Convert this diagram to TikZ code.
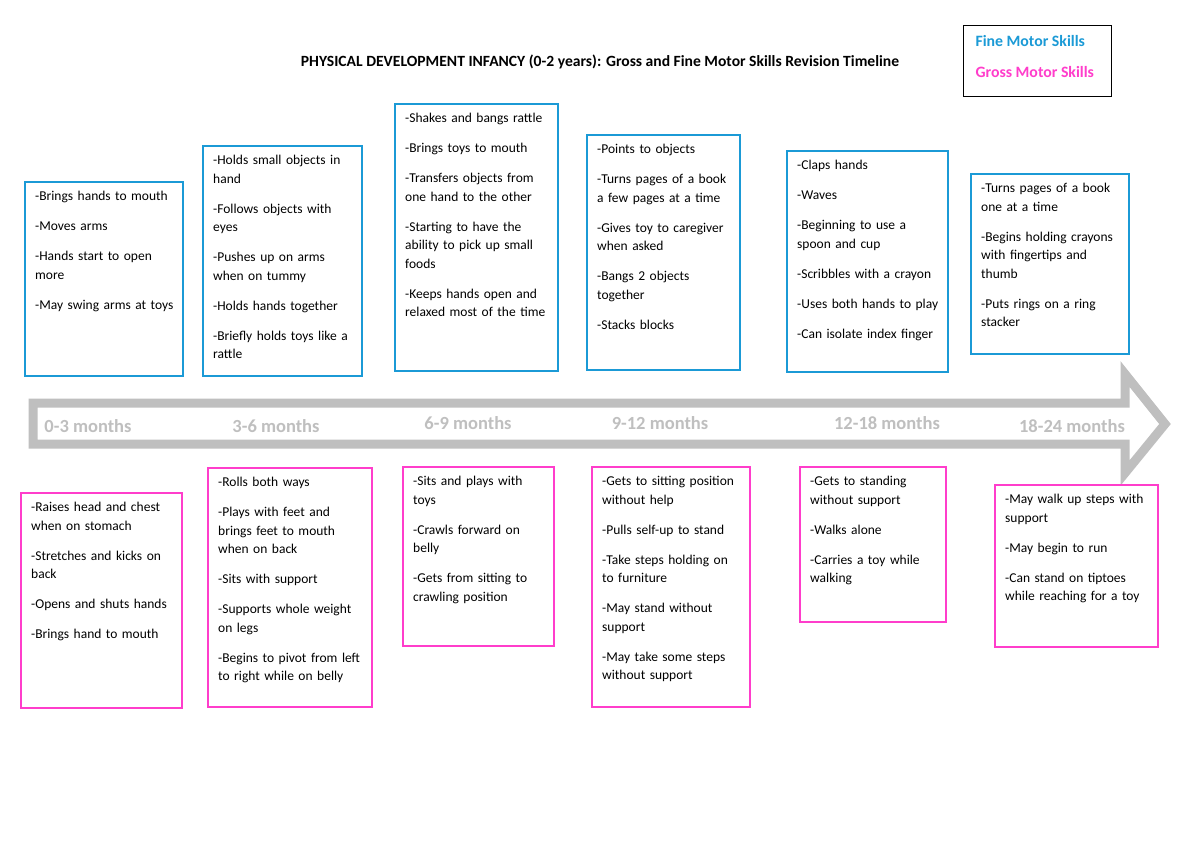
\documentclass[tikz,border=0pt]{standalone}
\usepackage{fontspec}
\setmainfont{Carlito}
\definecolor{fblue}{HTML}{1B9AD6}
\definecolor{gpink}{HTML}{FF3DCB}
\definecolor{agray}{HTML}{BFBFBF}
\begin{document}
\begin{tikzpicture}[x=1pt,y=-1pt,
  txt/.style={anchor=north west,inner sep=0pt,align=left,font=\fontsize{13.5}{18.5}\selectfont},
  bb/.style={draw=fblue,line width=2.6pt},
  pb/.style={draw=gpink,line width=2.6pt},
  lab/.style={text=agray,font=\fontsize{18.5}{20}\selectfont\bfseries}]
\useasboundingbox (0,0) rectangle (1200,849);
\fill[white] (0,0) rectangle (1200,849);
% arrow
\draw[agray,line width=9pt,line join=miter,fill=white] (33,403) -- (1125,403) -- (1125,374) -- (1165,424) -- (1125,473) -- (1125,444) -- (33,444) -- cycle;
\node[lab] (l1) at (88,426) {0-3 months};
\node[lab] (l2) at (276,426) {3-6 months};
\node[lab] (l3) at (468,423) {6-9 months};
\node[lab] (l4) at (660,423) {9-12 months};
\node[lab] (l5) at (887,423) {12-18 months};
\node[lab] (l6) at (1072,426) {18-24 months};
% title & legend
\node[font=\fontsize{15.6}{17}\selectfont\bfseries] (title) at (600,62) {PHYSICAL DEVELOPMENT INFANCY (0-2 years): Gross and Fine Motor Skills Revision Timeline};
\draw[line width=0.8pt] (963,25) rectangle (1111,96);
\node[anchor=west,text=fblue,font=\fontsize{15.8}{17}\selectfont\bfseries] (lf) at (972,41) {Fine Motor Skills};
\node[anchor=west,text=gpink,font=\fontsize{15.8}{17}\selectfont\bfseries] (lg) at (972,72) {Gross Motor Skills};
\newcommand{\tbox}[7]{% style, x1,y1,x2,y2,name,text
  \draw[#1] (#2,#3) rectangle (#4,#5);
  \node[txt,text width={#4-#2-18}] (#6) at (#2+10,#3+9) {\hyphenpenalty=10000 \exhyphenpenalty=10000 #7};}
\def\gap{\par\vspace{11.5pt}}
\tbox{bb}{25}{182}{183}{376}{f1}{-Brings hands to mouth\gap -Moves arms\gap -Hands start to open more\gap -May swing arms at toys}
\tbox{bb}{203}{146}{362}{376}{f2}{-Holds small objects in hand\gap -Follows objects with eyes\gap -Pushes up on arms when on tummy\gap -Holds hands together\gap -Briefly holds toys like a rattle}
\tbox{bb}{395}{104}{558}{371}{f3}{-Shakes and bangs rattle\gap -Brings toys to mouth\gap -Transfers objects from one hand to the other\gap -Starting to have the ability to pick up small foods\gap -Keeps hands open and relaxed most of the time}
\tbox{bb}{587}{135}{740}{370}{f4}{-Points to objects\gap -Turns pages of a book a few pages at a time\gap -Gives toy to caregiver when asked\gap -Bangs 2 objects together\gap -Stacks blocks}
\tbox{bb}{787}{151}{948}{372}{f5}{-Claps hands\gap -Waves\gap -Beginning to use a spoon and cup\gap -Scribbles with a crayon\gap -Uses both hands to play\gap -Can isolate index finger}
\tbox{bb}{971}{174}{1129}{354}{f6}{-Turns pages of a book one at a time\gap -Begins holding crayons with fingertips and thumb\gap -Puts rings on a ring stacker}
\tbox{pb}{21}{493}{182}{708}{g1}{-Raises head and chest when on stomach\gap -Stretches and kicks on back\gap -Opens and shuts hands\gap -Brings hand to mouth}
\tbox{pb}{208}{468}{372}{707}{g2}{-Rolls both ways\gap -Plays with feet and brings feet to mouth when on back\gap -Sits with support\gap -Supports whole weight on legs\gap -Begins to pivot from left to right while on belly}
\tbox{pb}{403}{467}{554}{646}{g3}{-Sits and plays with toys\gap -Crawls forward on belly\gap -Gets from sitting to crawling position}
\tbox{pb}{592}{467}{750}{707}{g4}{-Gets to sitting position without help\gap -Pulls self-up to stand\gap -Take steps holding on to furniture\gap -May stand without support\gap -May take some steps without support}
\tbox{pb}{800}{467}{946}{622}{g5}{-Gets to standing without support\gap -Walks alone\gap -Carries a toy while walking}
\tbox{pb}{995}{485}{1158}{647}{g6}{-May walk up steps with support\gap -May begin to run\gap -Can stand on tiptoes while reaching for a toy}
\end{tikzpicture}
\end{document}
